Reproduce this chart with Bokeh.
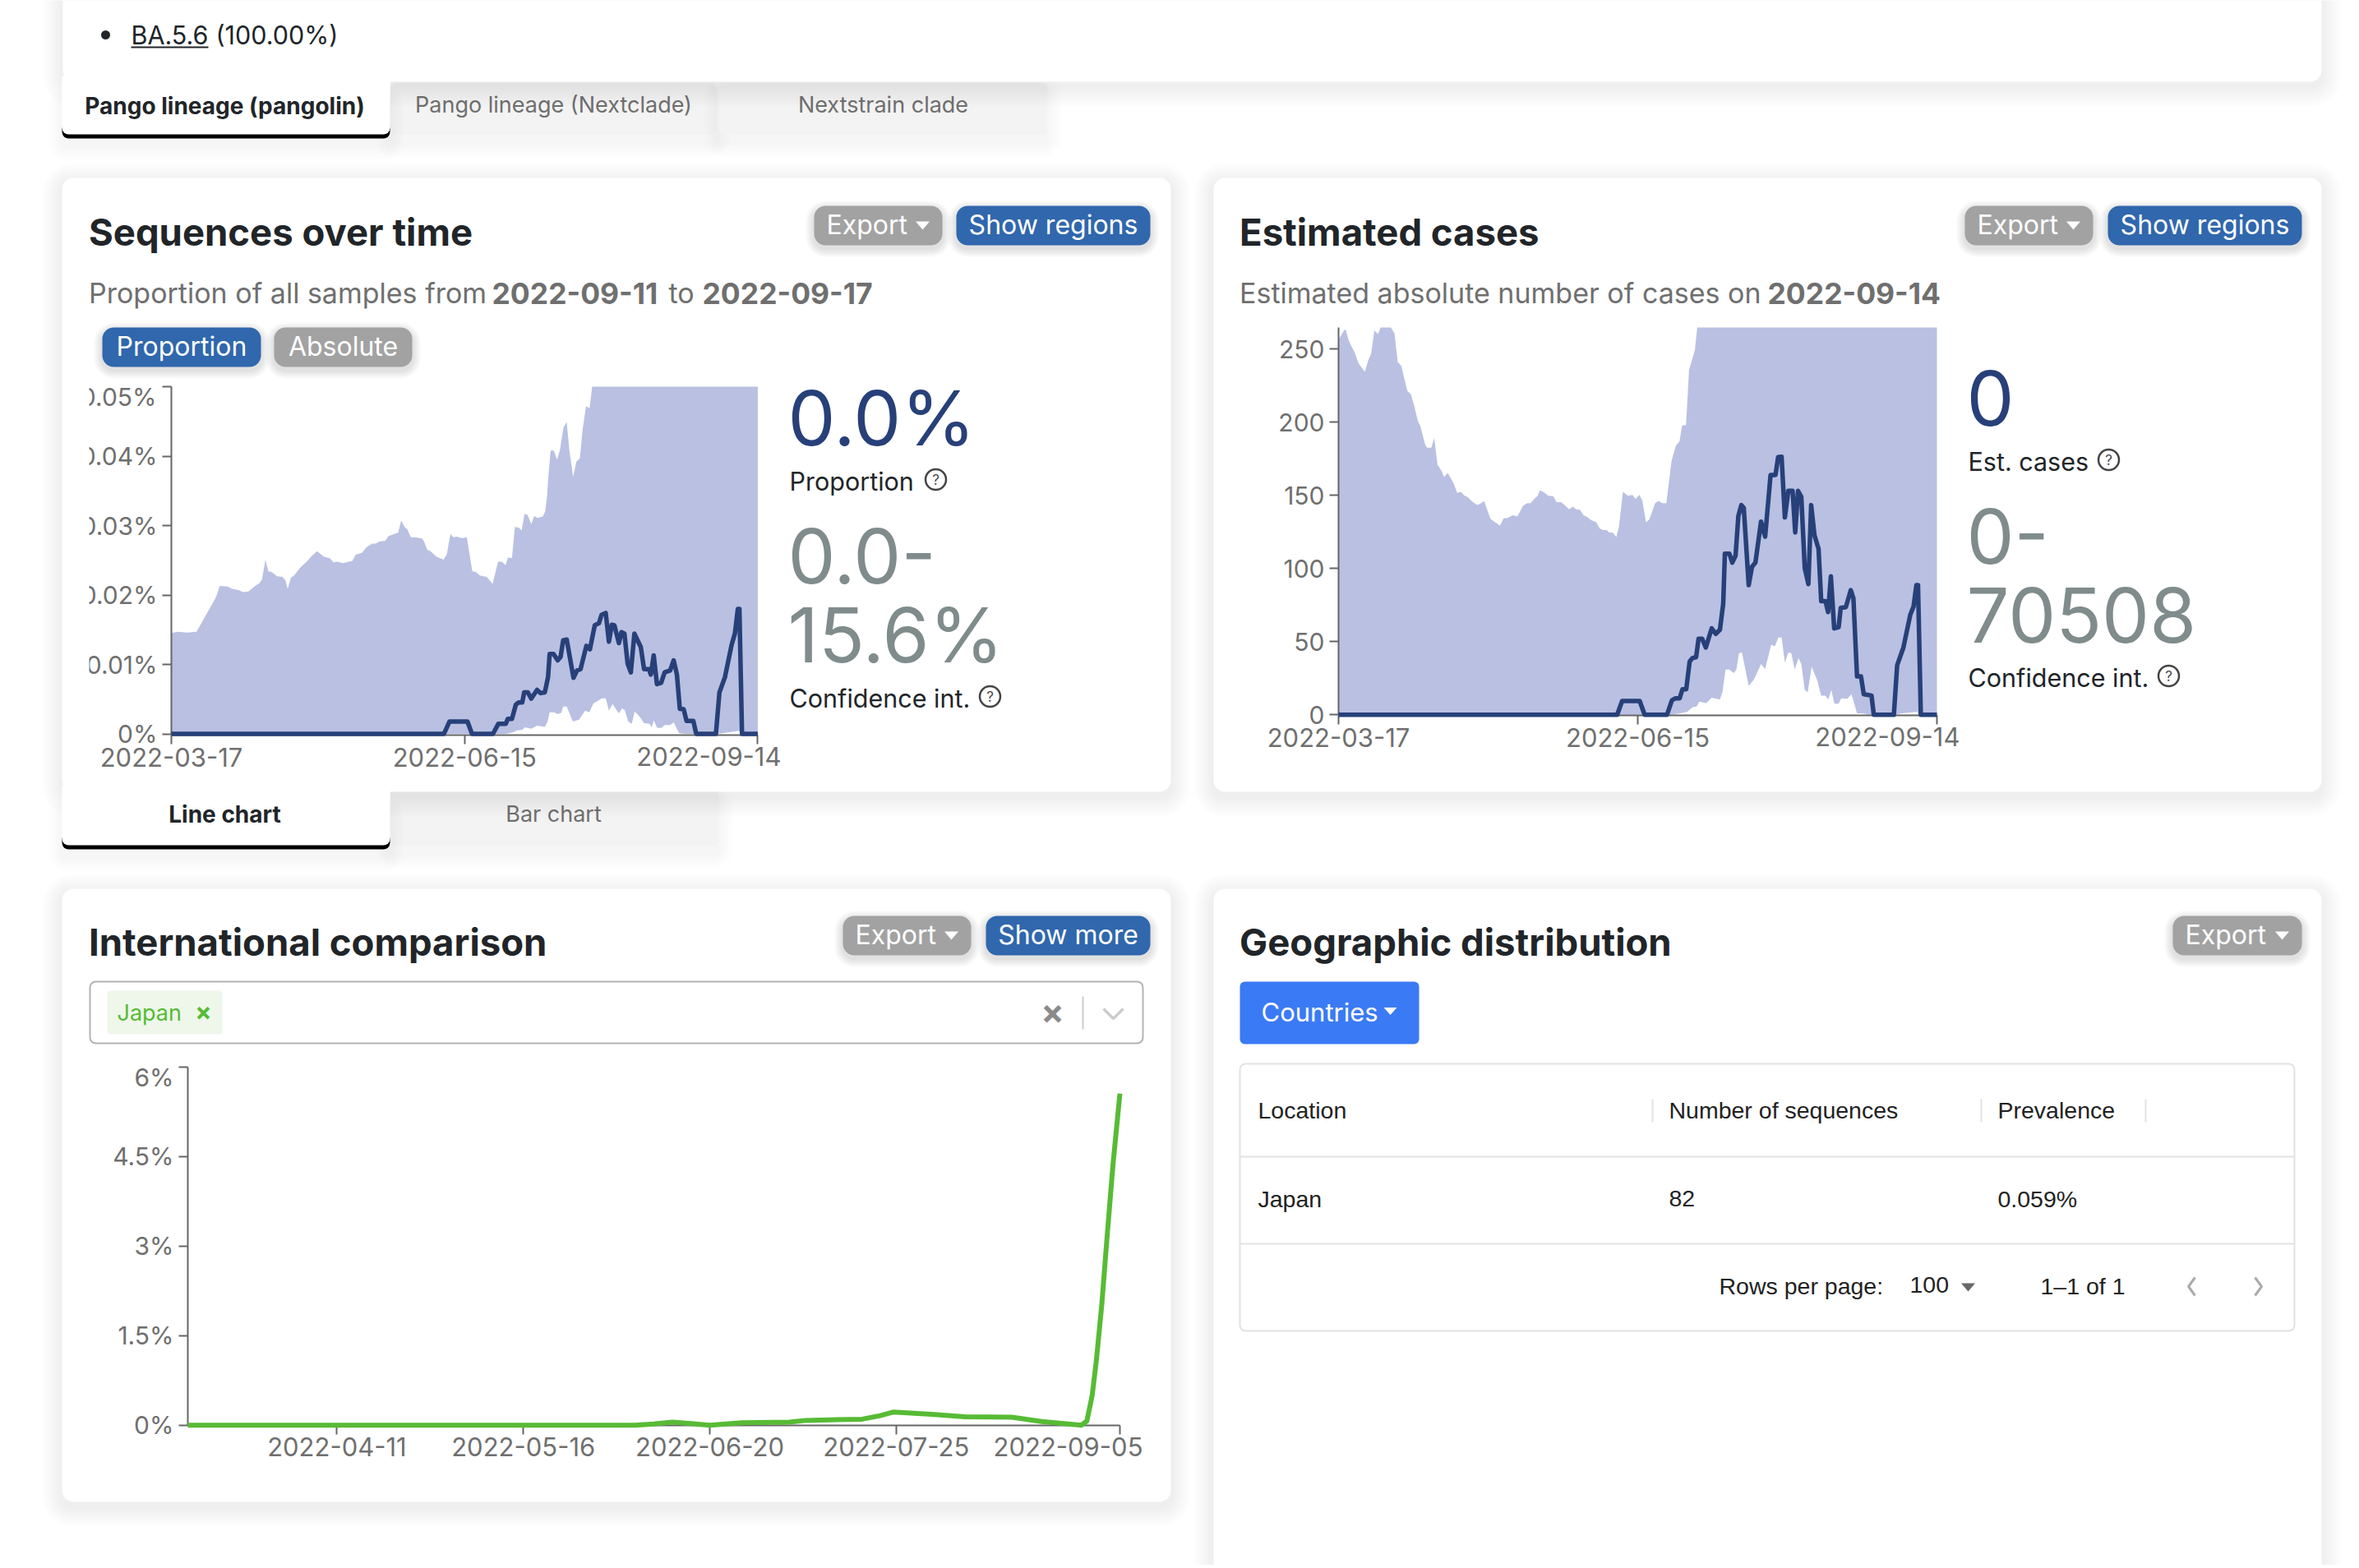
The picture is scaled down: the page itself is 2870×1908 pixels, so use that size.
from bokeh.embed import file_html
from bokeh.resources import INLINE
from bokeh.plotting import figure
from bokeh.models import Range1d, LinearAxis, FixedTicker
from bokeh.core.properties import value

# ---------------- DATA ----------------
# Days are counted from 2022-03-17 in the first two charts.
prop_tick_days = [0, 91, 182]
date_tick_labels = ["2022-03-17", "2022-06-15", "2022-09-14"]
prop_y_ticks = [0, 0.01, 0.02, 0.03, 0.04, 0.05]
prop_y_labels = ["0%", "0.01%", "0.02%", "0.03%", "0.04%", "0.05%"]

prop_line_days = [0, 84.6, 86.3, 91.9, 93.3, 99.8, 101.5, 103.8, 104.4, 105.7, 106.9, 107.8, 108.9, 109.5, 110.6, 111.7,
                  113.5, 114.6, 115.9, 116.9, 117.4, 118.6, 119.9, 120.8, 121.6, 122.7, 124.8, 125.9, 127, 128.8, 129.9,
                  131.4, 132.7, 133.5, 134.8, 135.8, 136.7, 137.5, 138.9, 139.7, 140.6, 141.6, 142.6, 143.7, 145.7, 146.7,
                  148.2, 148.8, 149.7, 150.7, 152, 153.1, 154.8, 155.9, 156.9, 157.8, 159, 159.9, 162, 162.9, 169, 170.1,
                  171.8, 173.9, 174.9, 175.8, 176.3, 177.1, 182]
prop_line_vals = [0, 0, .00177, .00177, 0, 0, .00146, .00146, .00217, .00217, .00421, .00453, .00453, .00598, .00598, .00508,
                  .00634, .00587, .00598, .00815, .0115, .0115, .01059, .0111, .01346, .01358, .00807, .00913, .00933, .01268, .01217,
                  .01563, .01594, .01713, .0174, .01327, .01571, .01563, .01307, .01465, .01445, .01012, .00886, .01445, .01248, .00933,
                  .00933, .00854, .0113, .00717, .00736, .00886, .00913, .01059, .00854, .00362, .00354, .00185, .00185, 0, 0, .00598,
                  .00815, .01287, .01445, .01799, .01799, 0, 0]

prop_upper_days = [0, 2, 5, 7.8, 13.4, 14.1, 15, 17.5, 18.8, 20.9, 22.2, 23.9, 26, 27.3, 28.1, 29.2, 30.1, 31.1, 32.8, 34.5,
                   35.4, 36.1, 37.1, 38.1, 40.1, 42, 43.5, 45.2, 47.4, 49.2, 50.3, 51.5, 53.2, 56.2, 57.2, 59.2, 60.6, 62.3,
                   63.4, 64.5, 66.4, 67.4, 70.4, 71.3, 72.4, 73.2, 74.3, 75.8, 77.9, 78.7, 79.4, 80.4, 82.3, 84.5, 85.5, 86.6,
                   87.5, 88.5, 90.2, 91.7, 93.4, 94.5, 95.7, 97.9, 99.7, 101.4, 102.6, 103.7, 104.5, 105.7, 106.6, 107.8, 108.7,
                   109.6, 110.6, 111.7, 112.6, 113.6, 115.3, 116, 116.6, 117, 117.7, 118.7, 119.7, 120.6, 121.7, 122.7, 123.5,
                   124.7, 125.7, 126.8, 127.6, 128.7, 129.8, 130.6, 182]
prop_upper_vals = [.01454, .0147, .0146, .0147, .0193, .02, .0213, .0212, .0209, .0207, .0204, .0205, .0213, .0217, .0222, .0251,
                   .0234, .0233, .0227, .0226, .0221, .0209, .0225, .0228, .024, .0248, .0256, .0263, .0255, .0253, .0247, .0248,
                   .0246, .0249, .0258, .0261, .0269, .0274, .0274, .0277, .0278, .0285, .029, .0307, .0298, .0295, .0283, .0283,
                   .0281, .0274, .0265, .0263, .0255, .0251, .0259, .0288, .0283, .0284, .0282, .0283, .0234, .0233, .0228, .0226,
                   .0216, .0248, .0248, .0243, .0254, .0253, .0298, .0297, .0293, .0317, .0315, .0302, .0314, .0311, .0313, .032,
                   .0342, .037, .0408, .0408, .0395, .0409, .0441, .0449, .0409, .037, .0392, .0397, .0437, .0472, .0469, .05, .05]

prop_lower_days = [0, 103.8, 105.9, 107.2, 108.9, 109.7, 111.7, 113.5, 115.9, 116.7, 117.4, 118.8, 119.9, 121, 121.6, 122.7,
                   124.6, 126.5, 128.4, 129.7, 131, 132.2, 133.5, 134.8, 135.8, 136.9, 138.9, 139.9, 140.7, 141.8, 142.9, 143.8,
                   145.4, 146.7, 148.4, 149.1, 149.7, 150.8, 152, 153.1, 154.8, 155.9, 157.6, 159.5, 169, 170.1, 176.2, 176.7, 182]
prop_lower_vals = [0, 0, .0002, .0005, .00055, .00094, .00075, .00118, .00102, .00165, .00311, .00311, .00283, .00303, .00394, .00394,
                   .00177, .00205, .00335, .00311, .00441, .00469, .00508, .00516, .00335, .00429, .00295, .00366, .00343, .00177, .00146,
                   .00323, .00244, .00154, .00146, .00098, .00193, .00087, .00087, .00126, .00126, .00165, .00008, 0, 0, .00002, .00043, 0, 0]

case_y_ticks = [0, 50, 100, 150, 200, 250]
case_y_labels = ["0", "50", "100", "150", "200", "250"]

case_line_days = [0, 84.75, 86.25, 91.6, 93.1, 99.9, 101.4, 102.4, 103.75, 104.6, 105.75, 106.8, 107.7, 108.75, 109.5, 110.6, 111.7,
                  113.5, 114.75, 116, 117, 117.5, 118.9, 119.75, 120.75, 121.6, 122.5, 123.25, 124.75, 125.75, 126.8, 128.5, 129.75,
                  131.4, 132.9, 133.7, 134.75, 135.75, 136.8, 138.1, 138.9, 139.75, 140.75, 141.8, 142.9, 143.75, 144.75, 146, 146.8,
                  148.1, 148.9, 149.75, 150.75, 152.1, 152.75, 154.3, 155.8, 156.6, 157.7, 158.9, 159.75, 162.1, 162.8, 168.9, 169.9,
                  171.8, 173.9, 174.9, 175.75, 176.25, 177.1, 182]
case_line_vals = [0, 0, 9.4, 9.4, 0, 0, 9.9, 11.2, 11.2, 17.4, 17.4, 36.5, 38.8, 39.3, 51.9, 51.9, 45.9,
                  59, 55.3, 58.1, 75.9, 110.1, 110.1, 104, 108.6, 135.8, 143.3, 141.4, 88.6, 101.1, 104, 132, 121.7,
                  163.9, 163.9, 176.1, 176.4, 134.9, 153, 153, 124.6, 153, 148.9, 100.2, 89.3, 143.3, 122.7, 113.3, 77.7,
                  77.7, 70.2, 94.6, 59, 59.9, 73, 73.6, 85.2, 79.6, 26.2, 26.2, 14, 13.1, 0, 0, 33.7,
                  45.9, 68.4, 74, 88.6, 88.6, 0, 0]

case_upper_days = [0, .9, 1.75, 2.2, 3, 3.8, 4.8, 6.1, 6.9, 8, 9, 9.9, 10.9, 12, 12.8, 15.9, 17, 18, 19.1, 20.9, 22, 23, 24.1, 24.9,
                   26.3, 26.9, 28.2, 29.1, 30.1, 31.2, 32.1, 33.2, 34.9, 36.1, 37.2, 38.25, 39.25, 40.7, 42.2, 43.4, 44.25, 45.1,
                   46.2, 47.6, 49.1, 50.25, 51.3, 53, 54.4, 56.1, 57.2, 58.4, 59.7, 60.5, 61.3, 62.6, 63.8, 65.3, 66.3, 67.8, 68.8,
                   70.1, 71.3, 72.2, 73.4, 74.5, 75.5, 76.75, 78.4, 79.4, 80.5, 81.6, 82.3, 83.4, 84.5, 85.3, 86.5, 88, 89.4, 90.3,
                   91.5, 92.4, 93.5, 94.5, 96.3, 97.3, 98.4, 99.7, 101.3, 102.6, 103.7, 104.5, 105.7, 106.6, 108.4, 109.1, 182]
case_upper_vals = [256.5, 259.8, 263, 263, 256.5, 252.4, 248.2, 240.2, 237.8, 234.4, 242.1, 246.7, 262.6, 260.2, 264.7, 264.7, 260.8,
                   241.1, 238.3, 221.5, 219, 211.2, 200.9, 197.1, 184.9, 182.5, 182.5, 189.1, 170.9, 167.2, 162.5, 165.3, 158.7, 151.6,
                   152.4, 149.9, 148.8, 145.6, 143.4, 144.7, 146.2, 140.9, 134, 131.6, 129.3, 134.4, 134.4, 136.4, 135.5, 142.8, 144.5,
                   144.7, 147.9, 149.4, 153.5, 151.8, 149.7, 149.4, 145.4, 145.2, 143.2, 140.4, 142.2, 140.4, 140.2, 136.3, 135.3, 133.1,
                   131.6, 127.3, 126.3, 126.3, 124.6, 124.5, 121.5, 128.8, 152.4, 149.7, 150.3, 147.5, 150.3, 146.5, 131.6, 133.4, 144.7,
                   146.2, 144.7, 144.7, 173.7, 184, 186.8, 197.7, 198, 235.5, 249.5, 264.7, 264.7]

case_lower_days = [0, 101, 103.9, 106, 107.7, 108.9, 109.75, 111.8, 113.5, 116, 116.8, 117.7, 118.9, 120.2, 121, 121.8, 122.7, 124.75,
                   126.4, 128.5, 129.75, 131.6, 132.7, 133.75, 134.75, 135.75, 136.8, 137.7, 138.75, 139.9, 140.75, 141.8, 142.7, 143.9,
                   145.6, 146.8, 148.1, 148.9, 149.9, 150.8, 152.1, 152.9, 154.75, 156, 157.7, 159.3, 161.8, 168.9, 171.4, 176, 176.4, 182]
case_lower_vals = [0, 0, .9, 1.9, 5.1, 5.6, 9, 7.9, 11.6, 10.3, 15.9, 30.9, 30.9, 28.5, 30.9, 42.1, 42.5, 19.7,
                   24.3, 34.7, 31.3, 47.8, 46.8, 52.8, 52.8, 35.6, 42.5, 42.1, 30.9, 38.8, 34.7, 16.9, 15.4, 32.8,
                   23.4, 13.1, 13.1, 10.3, 16.9, 7.5, 7.5, 11.2, 10.9, 14, .9, .9, 0, 0, 1, 1.9, 0, 0]

# Days are counted from 2022-03-14 in the comparison chart.
intl_tick_days = [28, 63, 98, 133, 175]
intl_tick_labels = ["2022-04-11", "2022-05-16", "2022-06-20", "2022-07-25", "2022-09-05"]
intl_y_ticks = [0, 1.5, 3, 4.5, 6]
intl_y_labels = ["0%", "1.5%", "3%", "4.5%", "6%"]
japan_days = [0, 84, 87.5, 91, 94, 98, 101, 104, 113, 116, 120.5, 126.6, 130, 132.5, 139.7, 145.9, 154.7, 160.3, 167.8, 168.8,
              169.8, 170.6, 171.6, 172.6, 173.7, 175]
japan_vals = [0, 0, .02, .05, .03, 0, .02, .04, .05, .08, .09, .10, .16, .22, .18, .14, .133, .06, 0, .07,
              .5, 1.1, 2.02, 3.16, 4.36, 5.55]

table_columns = ["Location", "Number of sequences", "Prevalence"]
table_row = ["Japan", "82", "0.059%"]

# ---------------- PAGE ----------------
W, H = 2868, 1904
L, T = 0, 0
p = figure(width=W, height=H, output_backend="svg", toolbar_location=None,
           x_range=Range1d(L, L + W), y_range=Range1d(T + H, T),
           x_axis_type=None, y_axis_type=None, min_border=0, outline_line_color=None,
           background_fill_color="white", border_fill_color="white")

SANS = "Inter"
HELV = "Liberation Sans"
DARK = "#212529"
GREY = "#6f6f6f"
NAVY = "#274079"
BAND = "#b9c0e2"
BTN_GREY = "#a2a2a2"
BTN_BLUE = "#3067ad"
AXIS = "#666666"
CI_GREY = "#7f8c8b"
GREEN = "#57bb35"
BIG = 92
TITLE = 45.5
SUB = 34
SUB_BOLD = 35.5


def box(l, t, r, b, color, rad=0, alpha=1.0, line=None, lw=1, level="glyph"):
    p.quad(left=[l], right=[r], top=[t], bottom=[b], fill_color=color, fill_alpha=alpha,
           line_color=line, line_width=lw, border_radius=int(rad), level=level)


def shadow(l, t, r, b, rad=12, dy=6, spread=24, n=8, alpha=0.008):
    for i in range(n):
        g = spread * (n - i) / n
        box(l - g, t - g + dy, r + g, b + g + dy, "#000000", rad + g, alpha)


def card(l, t, r, b):
    shadow(l, t, r, b)
    box(l, t, r, b, "#ffffff", 14)


def label(x, y, s, size, color=DARK, font=SANS, style="normal", align="left"):
    p.text(x=[x], y=[y - 2], text=[s], text_font=value(font), text_font_size=f"{size}px", text_font_style=style,
           text_color=color, text_align=align, text_baseline="middle")


def caret(cx, cy, w, h, color):
    p.patch(x=[cx - w / 2, cx + w / 2, cx], y=[cy - h / 2, cy - h / 2, cy + h / 2], fill_color=color, line_color=None)


def button(l, t, r, b, color, s, tx=None, arrow=False):
    shadow(l, t, r, b, rad=14, dy=4, spread=10, n=5, alpha=0.025)
    box(l, t, r, b, color, 14)
    if arrow:
        label(l + 15, (t + b) / 2 + 1, s, 32, "#ffffff")
        caret(r - 24, (t + b) / 2, 17, 10, "#ffffff")
    else:
        label((l + r) / 2, (t + b) / 2 + 1, s, 32, "#ffffff", align="center")


def help_icon(cx, cy):
    p.scatter(x=[cx], y=[cy], size=25, marker="circle", fill_alpha=0, line_color="#444444", line_width=2.5)
    label(cx, cy + 2, "?", 17, "#444444", align="center")


def tab(l, r, t, b, s, cx, cy):
    shadow(l, t, r, b, rad=6, dy=10, spread=18, n=9, alpha=0.005)
    box(l, t, r, b, "#f3f3f3", 8)
    label(cx, cy, s, 27, "#6f6f6f", align="center")


def active_tab(l, r, t, b, s, cx, cy):
    shadow(l, t + 20, r, b, rad=6, dy=10, spread=18, n=9, alpha=0.005)
    box(l, b - 20, r, b, "#000000", 8)
    box(l, t, r, b - 5, "#ffffff", 8)
    box(l, t, r, t + 20, "#ffffff")
    label(cx, cy, s, 28, "#212529", style="bold", align="center")


def chart(name, x0, kx, y0, ky, axis_y, x_ticks, x_labels, y_ticks, y_labels, x_end, y_top):
    p.extra_x_ranges[name + "x"] = Range1d((L - x0) / kx, (L + W - x0) / kx)
    p.extra_y_ranges[name + "y"] = Range1d((y0 - (T + H)) / ky, (y0 - T) / ky)
    xax = LinearAxis(x_range_name=name + "x", y_range_name=name + "y", fixed_location=(y0 - axis_y) / ky,
                     bounds=(0, x_end), ticker=FixedTicker(ticks=x_ticks),
                     major_label_overrides={t: lab for t, lab in zip(x_ticks, x_labels)})
    yax = LinearAxis(x_range_name=name + "x", y_range_name=name + "y", fixed_location=0,
                     bounds=(0, y_top), ticker=FixedTicker(ticks=y_ticks),
                     major_label_overrides={t: lab for t, lab in zip(y_ticks, y_labels)})
    for ax, fs, so in ((xax, "31px", 4), (yax, "30px", 6)):
        ax.axis_line_color = AXIS
        ax.axis_line_width = 2
        ax.major_tick_line_color = AXIS
        ax.major_tick_line_width = 2
        ax.major_tick_in = 0
        ax.major_tick_out = 11
        ax.minor_tick_line_color = None
        ax.major_label_text_font = SANS
        ax.major_label_text_font_size = fs
        ax.major_label_text_color = GREY
        ax.major_label_standoff = so
    p.add_layout(xax, "below")
    p.add_layout(yax, "left")
    return name + "x", name + "y"


# ---------- tabs & cards ----------
tab(474, 871, 100, 164, "Pango lineage (Nextclade)", 673, 129)
tab(874, 1274, 100, 164, "Nextstrain clade", 1074, 129)
tab(474, 874, 960, 1029, "Bar chart", 673, 992)
card(76, -40, 2824, 99)
card(75, 216, 1424, 963)
card(1476, 216, 2824, 963)
card(75, 1081, 1424, 1827)
card(1476, 1081, 2824, 2000)
active_tab(75, 474, 92, 168, "Pango lineage (pangolin)", 273, 130)
active_tab(75, 474, 956, 1033, "Line chart", 273, 992)

# top card text
p.scatter(x=[128], y=[42], size=11, marker="circle", fill_color=DARK, line_color=None)
label(159, 44, "BA.5.6", 30.5)
box(159, 56, 253, 58, DARK)
label(262, 44, "(100.00%)", 30.5)

# ---------- card 1 ----------
label(107.5, 284, "Sequences over time", TITLE, style="bold")
button(990, 250, 1146, 298, BTN_GREY, "Export", arrow=True)
button(1163, 250, 1399, 298, BTN_BLUE, "Show regions")
label(107.5, 358, "Proportion of all samples from", SUB, GREY)
label(598, 358, "2022-09-11", SUB_BOLD, GREY, style="bold")
label(813, 358, "to", SUB, GREY)
label(854, 358, "2022-09-17", SUB_BOLD, GREY, style="bold")
button(124, 398, 317, 446, BTN_BLUE, "Proportion")
button(333, 398, 501, 446, BTN_GREY, "Absolute")

xn, yn = chart("prop", 208, 3.92, 892.5, 8450, 894.3, prop_tick_days, date_tick_labels[:2] + [""],
               prop_y_ticks, prop_y_labels[:-1] + [""], 182, 0.05)
p.varea(x=prop_upper_days, y1=[0] * len(prop_upper_days), y2=prop_upper_vals, fill_color=BAND,
        x_range_name=xn, y_range_name=yn)
p.varea(x=prop_lower_days, y1=[0] * len(prop_lower_days), y2=prop_lower_vals, fill_color="#ffffff",
        x_range_name=xn, y_range_name=yn)
p.line(x=prop_line_days, y=prop_line_vals, line_color=NAVY, line_width=5.5, line_join="round",
       x_range_name=xn, y_range_name=yn, level="annotation")
label(190, 484, prop_y_labels[-1], 30, GREY, align="right")
box(78, 460, 108, 870, "#ffffff", level="overlay")
label(950, 922, date_tick_labels[-1], 31, GREY, align="right")

label(958, 510, "0.0%", BIG, NAVY)
label(960, 587, "Proportion", 30.5)
help_icon(1138, 583)
label(958, 678, "0.0-", BIG, CI_GREY)
label(958, 774, "15.6%", BIG, CI_GREY)
label(960, 851, "Confidence int.", 30.5)
help_icon(1204, 847)

# ---------- card 2 ----------
label(1507.5, 284, "Estimated cases", TITLE, style="bold")
button(2390, 250, 2546, 298, BTN_GREY, "Export", arrow=True)
button(2564, 250, 2800, 298, BTN_BLUE, "Show regions")
label(1507.5, 358, "Estimated absolute number of cases on", SUB, GREY)
label(2150, 358, "2022-09-14", SUB_BOLD, GREY, style="bold")

xn, yn = chart("case", 1628, 4.0, 869.2, 1.78, 870.2, prop_tick_days, date_tick_labels[:2] + [""],
               case_y_ticks, case_y_labels, 182, 264.7)
p.varea(x=case_upper_days, y1=[0] * len(case_upper_days), y2=case_upper_vals, fill_color=BAND,
        x_range_name=xn, y_range_name=yn)
p.varea(x=case_lower_days, y1=[0] * len(case_lower_days), y2=case_lower_vals, fill_color="#ffffff",
        x_range_name=xn, y_range_name=yn)
p.line(x=case_line_days, y=case_line_vals, line_color=NAVY, line_width=5.5, line_join="round",
       x_range_name=xn, y_range_name=yn, level="annotation")
label(2384, 898, date_tick_labels[-1], 31, GREY, align="right")

label(2392, 486, "0", BIG, NAVY)
label(2394, 563, "Est. cases", 30.5)
help_icon(2565, 559)
label(2392, 654, "0-", BIG, CI_GREY)
label(2392, 750, "70508", BIG, CI_GREY)
label(2394, 826, "Confidence int.", 30.5)
help_icon(2638, 822)

# ---------- card 3 ----------
label(107.5, 1148, "International comparison", TITLE, style="bold")
button(1025, 1114, 1181, 1162, BTN_GREY, "Export", arrow=True)
button(1199, 1114, 1399, 1162, BTN_BLUE, "Show more")
box(109, 1194, 1390, 1269, "#ffffff", 7, line="#b3b3b3", lw=2)
box(130, 1205, 270, 1258, "#eef7ea", 4)
label(142, 1234, "Japan", 27, GREEN)
label(247, 1232, "×", 30, GREEN, style="bold", align="center")
label(1280, 1232, "×", 42, "#8a8a8a", style="bold", align="center")
box(1316, 1212, 1318, 1252, "#cccccc")
p.line(x=[1342, 1354, 1366], y=[1227, 1239, 1227], line_color="#cccccc", line_width=3.5)

xn, yn = chart("intl", 228, 6.48, 1733.7, 72.7, 1733.7, intl_tick_days, intl_tick_labels[:-1] + [""],
               intl_y_ticks, intl_y_labels[:-1] + [""], 175, 6)
p.line(x=japan_days, y=japan_vals, line_color=GREEN, line_width=6, line_join="round",
       x_range_name=xn, y_range_name=yn, level="annotation")
label(211, 1312, intl_y_labels[-1], 30, GREY, align="right")
label(1390, 1762, intl_tick_labels[-1], 31, GREY, align="right")

# ---------- card 4 ----------
label(1507.5, 1148, "Geographic distribution", TITLE, style="bold")
button(2643, 1114, 2800, 1162, BTN_GREY, "Export", arrow=True)
box(1508, 1194, 1726, 1270, "#3b7af5", 6)
label(1534, 1233, "Countries", 31, "#ffffff")
caret(1691, 1230, 16, 9, "#ffffff")
box(1508, 1294, 2791, 1619, "#ffffff", 7, line="#e2e2e2", lw=2)
box(1508, 1406, 2791, 1408, "#e2e2e2")
box(1508, 1512, 2791, 1514, "#e2e2e2")
for sx in (2010, 2410, 2610):
    box(sx - 1, 1337, sx + 1, 1365, "#e2e2e2")
for cx, head, val in zip((1530, 2030, 2430), table_columns, table_row):
    label(cx, 1352, head, 28.5, "#222222", font=HELV)
    label(cx, 1460, val, 28.5, "#222222", font=HELV)
label(2091, 1566, "Rows per page:", 28.5, "#222222", font=HELV)
label(2323, 1565, "100", 28.5, "#222222", font=HELV)
caret(2394, 1566, 17, 10, "#666666")
label(2482, 1566, "1–1 of 1", 28.5, "#222222", font=HELV)
p.line(x=[2670, 2662, 2670], y=[1554, 1565, 1576], line_color="#aaaaaa", line_width=3)
p.line(x=[2743, 2751, 2743], y=[1554, 1565, 1576], line_color="#aaaaaa", line_width=3)

open("out.html", "w").write(file_html(p, INLINE))
